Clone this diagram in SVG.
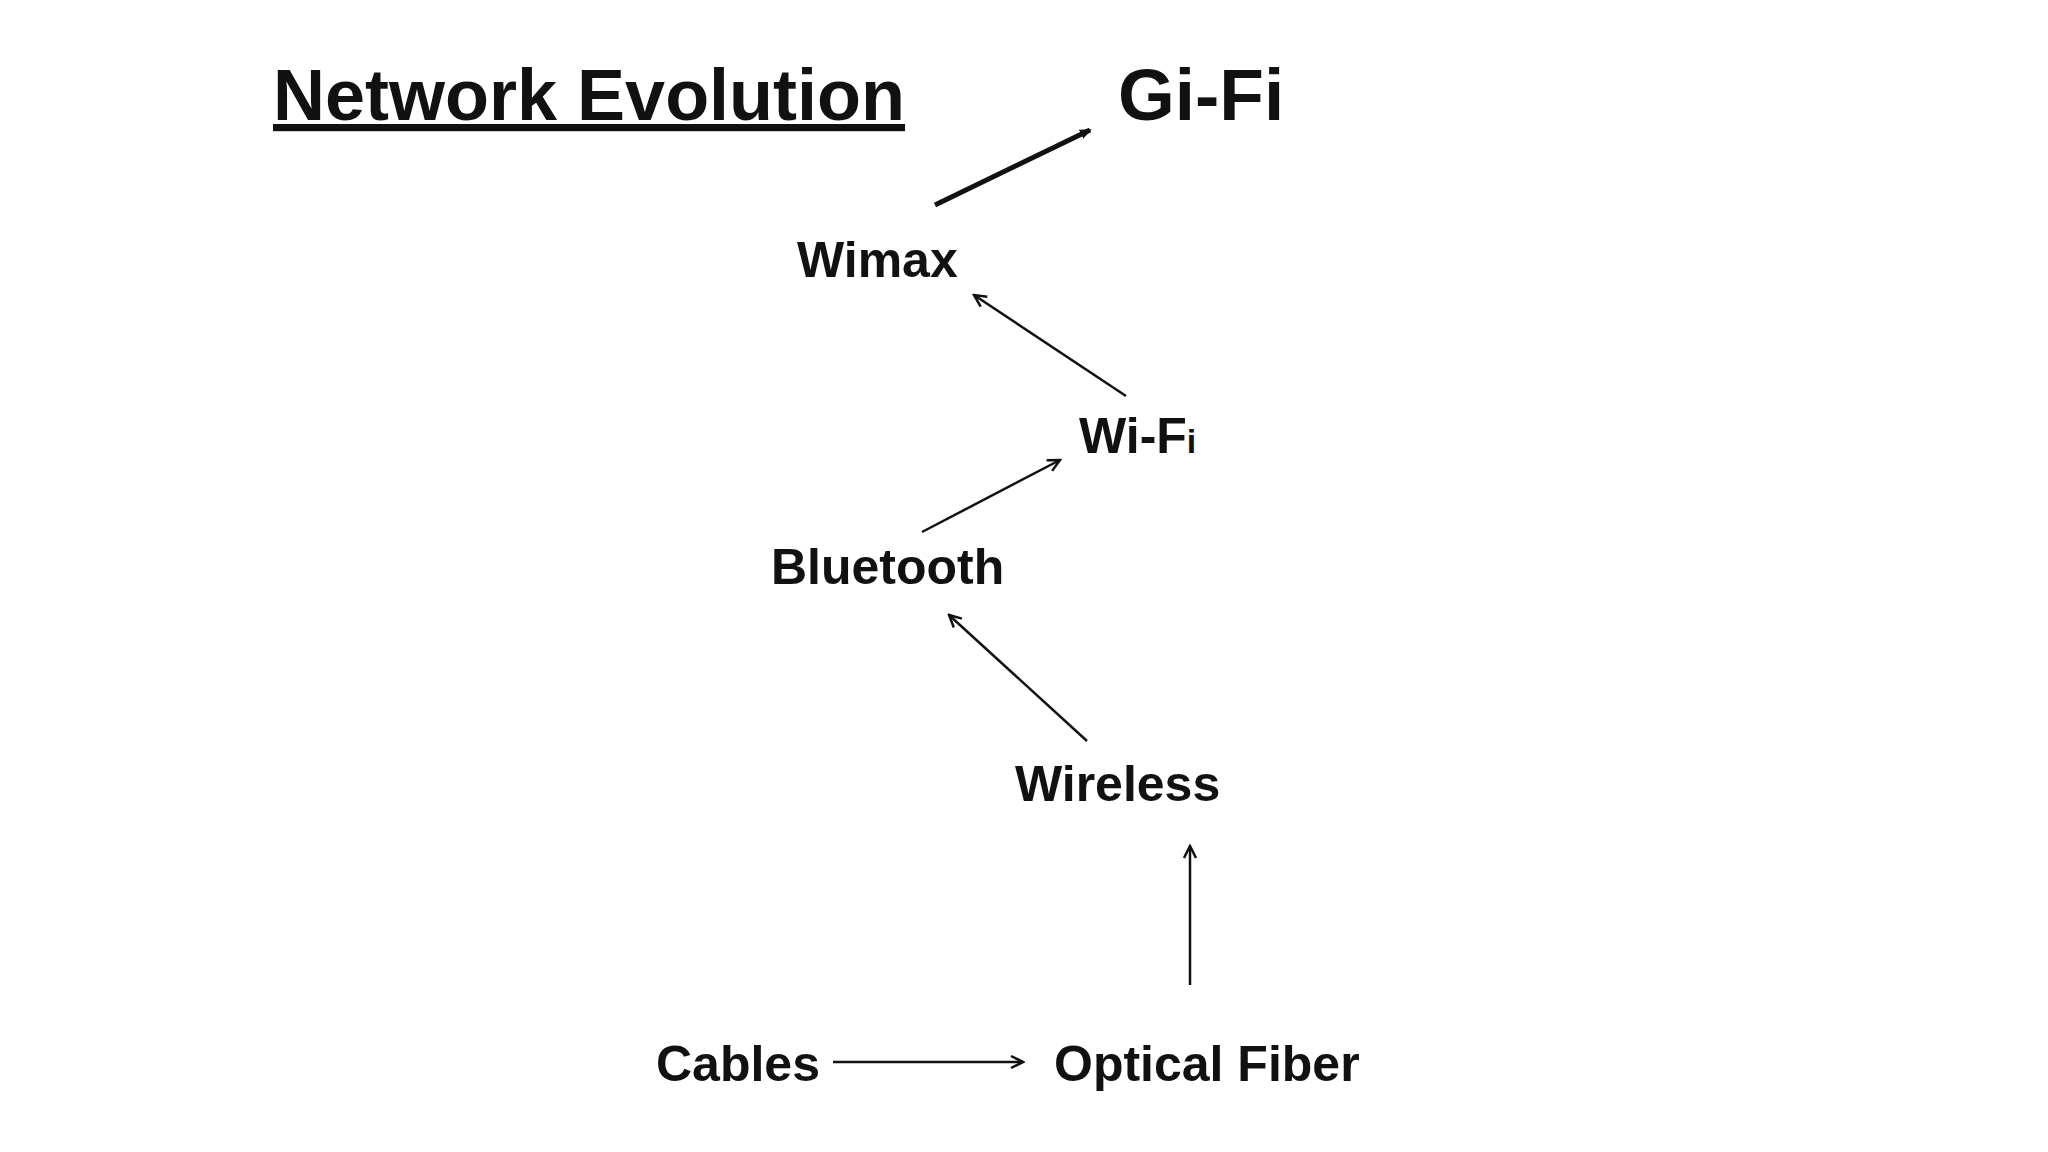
<svg xmlns="http://www.w3.org/2000/svg" width="2048" height="1152" viewBox="0 0 2048 1152">
<defs>
<marker id="ah" markerWidth="16" markerHeight="16" refX="14" refY="8" orient="auto" markerUnits="userSpaceOnUse"><path d="M2,2 L14,8 L2,14" fill="none" stroke="#111" stroke-width="2.5"/></marker>
<marker id="ah2" markerWidth="14" markerHeight="14" refX="10" refY="7" orient="auto" markerUnits="userSpaceOnUse"><path d="M0,2 L12,7 L0,12 Z" fill="#111"/></marker>
</defs>
<style>
text{font-family:"Liberation Sans",Arial,sans-serif;font-weight:bold;fill:#111}
.n{font-size:50px}
.c line{stroke:#111;stroke-width:2.5;marker-end:url(#ah)}
</style>
<rect width="2048" height="1152" fill="#fff"/>
<g id="title"><text x="273" y="120" font-size="72" text-decoration="underline">Network Evolution</text></g>
<g id="gifi"><text x="1118" y="120" font-size="73">Gi-Fi</text></g>
<g id="wimax"><text class="n" x="797" y="277">Wimax</text></g>
<g id="wifi"><text class="n" x="1079" y="453">Wi-F<tspan font-size="34">i</tspan></text></g>
<g id="bluetooth"><text class="n" x="771" y="584">Bluetooth</text></g>
<g id="wireless"><text class="n" x="1015" y="801">Wireless</text></g>
<g id="cables"><text class="n" x="656" y="1081">Cables</text></g>
<g id="optical"><text class="n" x="1054" y="1081">Optical Fiber</text></g>
<g id="connectors" class="c">
<line x1="935" y1="205" x2="1090" y2="130" style="stroke-width:5;marker-end:url(#ah2)"/>
<line x1="1126" y1="396" x2="974" y2="295"/>
<line x1="922" y1="532" x2="1060" y2="460"/>
<line x1="1087" y1="741" x2="949" y2="615"/>
<line x1="1190" y1="985" x2="1190" y2="846"/>
<line x1="833" y1="1062" x2="1023" y2="1062"/>
</g>
</svg>
